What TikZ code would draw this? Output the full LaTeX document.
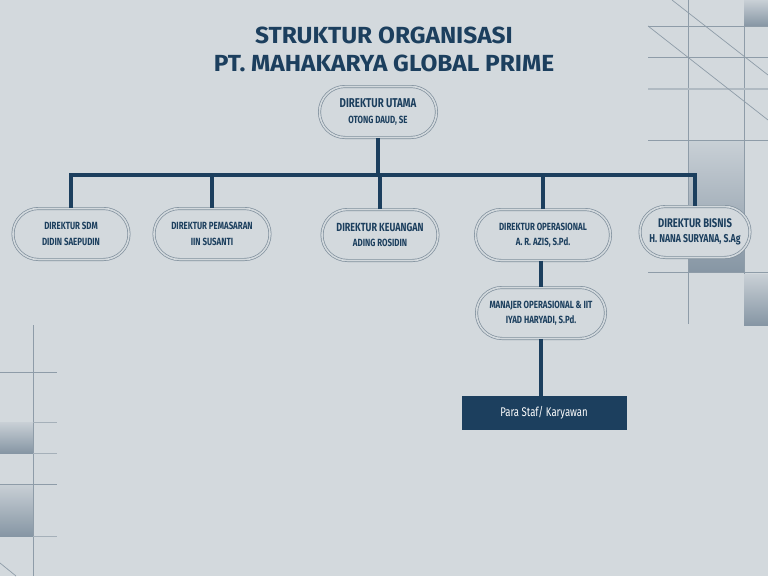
\documentclass[tikz,border=0pt]{standalone}
\usepackage{fontspec}
\setmainfont{Fira Sans}
\newfontfamily\titlefont[FakeStretch=1.05]{Fira Sans}
\newfontfamily\condfont[FakeStretch=0.76]{Fira Sans}
\usetikzlibrary{shapes.misc}
\definecolor{bgcol}{HTML}{D3D9DD}
\definecolor{navy}{HTML}{1C3F5E}
\definecolor{deco}{HTML}{8E9CA8}
\definecolor{gradtop}{HTML}{C9D0D6}
\definecolor{gradbot}{HTML}{8696A4}
\definecolor{pillline}{HTML}{7F8F9C}
\tikzset{
  decoline/.style={draw=deco, line width=0.9pt},
  gradbox/.style={top color=gradtop, bottom color=gradbot, draw=none},
  pill/.style={rounded rectangle, draw=pillline, double=bgcol, double distance=1.6pt,
    line width=0.7pt, fill=bgcol, minimum width=116, minimum height=51, inner sep=0pt,
    align=center, text=navy, font=\condfont\bfseries\fontsize{10.4}{15.5}\selectfont},
  conn/.style={draw=navy, line width=4pt},
  staff/.style={rectangle, fill=navy, text=white, minimum width=165, minimum height=34,
    inner sep=0pt, font=\condfont\fontsize{12.6}{13}\selectfont},
}
\begin{document}
\begin{tikzpicture}[x=1pt, y=-1pt]
\useasboundingbox (0,0) rectangle (768,576);
\fill[bgcol] (0,0) rectangle (768,576);
% right decoration
\fill[gradbox] (744,0) rectangle (768,26);
\fill[gradbox] (688,140) rectangle (744,272);
\fill[gradbox] (744,274) rectangle (768,325);
\draw[decoline] (688,0) -- (688,324);
\draw[decoline] (744,26) -- (744,274);
\draw[decoline] (648,26) -- (768,26);
\draw[decoline] (648,57) -- (768,57);
\draw[decoline, draw=deco!70, line width=1.6pt] (648,89) -- (768,89);
\draw[decoline] (648,140) -- (768,140);
\draw[decoline] (648,272) -- (768,272);
\draw[decoline, line width=0.7pt] (672,0) -- (768,75);
\draw[decoline, line width=0.7pt] (648,26) -- (768,120);
% left decoration
\fill[gradbox] (0,422) rectangle (33,453);
\fill[gradbox] (0,484) rectangle (33,536);
\draw[decoline] (33,325) -- (33,576);
\draw[decoline] (0,372) -- (57,372);
\draw[decoline, draw=deco!80] (33,422) -- (57,422);
\draw[decoline, draw=deco!80] (33,453) -- (57,453);
\draw[decoline] (0,484) -- (57,484);
\draw[decoline, draw=deco!80] (33,536) -- (57,536);
\draw[decoline, line width=0.7pt] (0,563) -- (16,576);
% title
\node[text=navy, font=\titlefont\bfseries\fontsize{23.3}{28}\selectfont, align=center] (title) at (384,49)
  {STRUKTUR ORGANISASI\\PT. MAHAKARYA GLOBAL PRIME};
% nodes
\node[pill, minimum width=117] (uta) at (378,112) {{\fontsize{12.8}{14}\selectfont DIREKTUR UTAMA}\\OTONG DAUD, SE};
\node[pill] (sdm) at (71,234) {DIREKTUR SDM\\DIDIN SAEPUDIN};
\node[pill] (pem) at (212,234) {DIREKTUR PEMASARAN\\IIN SUSANTI};
\node[pill] (keu) at (380,235) {{\fontsize{11.8}{14}\selectfont DIREKTUR KEUANGAN}\\ADING ROSIDIN};
\node[pill, minimum width=135] (ops) at (543,235) {DIREKTUR OPERASIONAL\\A. R. AZIS, S.Pd.};
\node[pill, minimum width=110] (bis) at (695,232) {{\fontsize{12.5}{14}\selectfont DIREKTUR BISNIS}\\{\fontsize{11.4}{14}\selectfont H. NANA SURYANA, S.Ag}};
\node[pill, minimum width=129] (man) at (541,313) {MANAJER OPERASIONAL \& IIT\\IYAD HARYADI, S.Pd.};
\node[staff] (staf) at (544,413) {Para Staf/ Karyawan};
% connectors
\coordinate (bar) at (379,175);
\draw[conn] (uta.south) -- (uta.south |- bar);
\draw[conn] (sdm.north) |- (bar) -| (bis.north);
\draw[conn] (pem.north) -- (pem.north |- bar);
\draw[conn] (keu.north) -- (keu.north |- bar);
\draw[conn] (ops.north) -- (ops.north |- bar);
\draw[conn] (ops.south -| man.north) -- (man.north);
\draw[conn] (man.south) -- (man.south |- staf.north);
\end{tikzpicture}
\end{document}
